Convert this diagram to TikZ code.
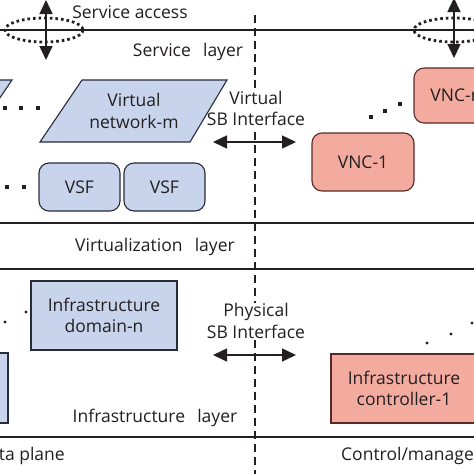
\documentclass[tikz,border=0pt]{standalone}
\usepackage{fontspec}
\setmainfont{Open Sans}
\usetikzlibrary{arrows.meta}
\definecolor{bluefill}{RGB}{200,212,236}
\definecolor{blueline}{RGB}{40,44,58}
\definecolor{pinkfill}{RGB}{243,171,160}
\definecolor{pinkline}{RGB}{90,42,38}
\definecolor{ink}{RGB}{35,31,32}
\tikzset{
  lbl/.style={font=\fontsize{17.5}{21.5}\selectfont, text=ink, inner sep=1pt, align=center},
  wlbl/.style={lbl, fill=white},
  bluebox/.style={draw=blueline, fill=bluefill, line width=1.1pt, lbl},
  vsfbox/.style={bluebox, rounded corners=10pt, minimum width=81pt, minimum height=48pt},
  infbox/.style={bluebox, minimum width=146pt, minimum height=69pt},
  pinkbox/.style={draw=pinkline, fill=pinkfill, line width=1.1pt, lbl},
  vncbox/.style={pinkbox, rounded corners=10pt},
  layerline/.style={line width=1.4pt, draw=ink},
  sep/.style={line width=1.8pt, draw=ink, dash pattern=on 8pt off 5pt},
  dotellipse/.style={line width=2.8pt, draw=ink, dash pattern=on 2.6pt off 3.0pt},
  sqdot/.style={fill=ink, minimum size=4pt, inner sep=0pt},
  rddot/.style={circle, fill=ink, minimum size=3.2pt, inner sep=0pt},
  dblarrow/.style={line width=1.5pt, draw=ink, {Triangle[length=14pt,width=13pt]}-{Triangle[length=14pt,width=13pt]}},
}
\begin{document}
\begin{tikzpicture}[x=1pt,y=-1pt]
\useasboundingbox (0,0) rectangle (474,474);
\clip (0,0) rectangle (474,474);
\fill[white] (0,0) rectangle (474,474);

% layer lines
\coordinate (l1a) at (-5,30);  \coordinate (l1b) at (480,30);
\coordinate (l2a) at (-5,223); \coordinate (l2b) at (480,223);
\coordinate (l3a) at (-5,269); \coordinate (l3b) at (480,269);
\coordinate (l4a) at (-5,437); \coordinate (l4b) at (480,437);
\draw[layerline] (l1a) -- (l1b);
\draw[layerline] (l2a) -- (l2b);
\draw[layerline] (l3a) -- (l3b);
\draw[layerline] (l4a) -- (l4b);

% plane separator
\coordinate (sepT) at (255,15);
\coordinate (sepB) at (255,480);
\draw[sep] (sepT) -- (sepB);

% interface labels (white ground hides the separator behind them)
\node[wlbl] (vsb) at (256,108.5) {Virtual\\SB Interface};
\node[wlbl] (psb) at (256,321) {Physical\\SB Interface};

% service access points
\draw[dotellipse] (44,30) ellipse [x radius=39, y radius=12];
\draw[dotellipse] (454,30) ellipse [x radius=40, y radius=12];
\coordinate (saLt) at (46,0);  \coordinate (saLb) at (46,60);
\coordinate (saRt) at (454,-2); \coordinate (saRb) at (454,58);
\draw[dblarrow] (saLt) -- (saLb);
\draw[dblarrow] (saRt) -- (saRb);

% labels
\node[lbl] (sacc) at (130,12) {Service access};
\node[lbl] (slay) at (188,52) {Service\hspace{0.7em}layer};
\node[lbl] (vlay) at (155,247) {Virtualization\hspace{0.7em}layer};
\node[lbl] (ilay) at (155,418) {Infrastructure\hspace{0.7em}layer};
\node[lbl, anchor=east] (dpl) at (66,456) {Data plane};
\node[lbl, anchor=west] (cpl) at (340,456) {Control/management plane};

% virtual networks
\draw[bluebox] (-150,80) -- (12,80) -- (-30,142) -- (-190,142) -- cycle;
\draw[bluebox] (82,80) -- (227,80) -- (190,142) -- (40,142) -- cycle;
\node[lbl] (vnm) at (134,111) {Virtual\\network-m};
\node[sqdot] (d1) at (5,108) {};
\node[sqdot] (d2) at (21,108) {};
\node[sqdot] (d3) at (38,108) {};

% VSFs
\node[vsfbox] (vsf1) at (79.5,187) {VSF};
\node[vsfbox] (vsf2) at (164.5,187) {VSF};
\node[sqdot] (d4) at (7,187) {};
\node[sqdot] (d5) at (24,187) {};

% infrastructure domains
\node[infbox, minimum width=110pt, minimum height=70pt] (infl) at (-47,388) {};
\node[infbox] (infd) at (104,315.5) {Infrastructure\\domain-n};
\node[rddot] (d6) at (5,322) {};
\node[rddot] (d7) at (26,312) {};

% interface arrows
\coordinate (vaL) at (213,142); \coordinate (vaR) at (296,142);
\draw[dblarrow] (vaL) -- (vaR);
\coordinate (paL) at (213,355); \coordinate (paR) at (296,355);
\draw[dblarrow] (paL) -- (paR);

% control plane
\node[vncbox, minimum width=102pt, minimum height=58pt] (vnc1) at (363,162) {VNC-1};
\node[vncbox, minimum width=84pt, minimum height=55pt] (vncn) at (456,95.5) {VNC-n};
\node[sqdot] (d8) at (371,117) {};
\node[sqdot] (d9) at (385,111) {};
\node[sqdot] (d10) at (400,104) {};
\node[pinkbox, minimum width=146pt, minimum height=69pt] (infc) at (404,388.5) {Infrastructure\\controller-1};
\node[rddot] (d11) at (427,343) {};
\node[rddot] (d12) at (451,334) {};
\node[rddot] (d13) at (472,323) {};
\end{tikzpicture}
\end{document}
